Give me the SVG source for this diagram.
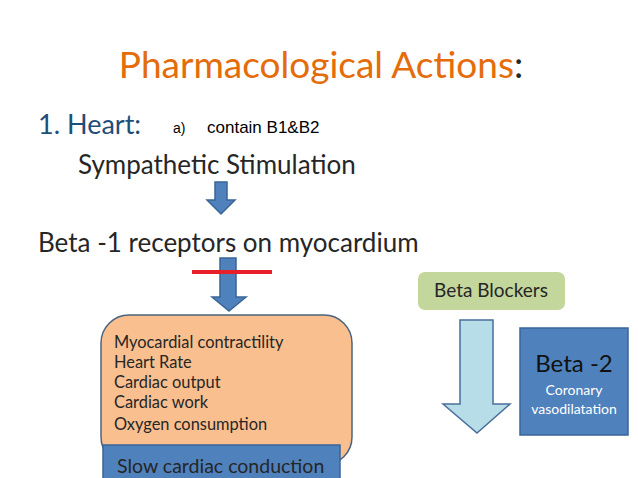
<svg xmlns="http://www.w3.org/2000/svg" width="638" height="478" viewBox="0 0 638 478">
<style>
.c{font-family:Lato,"Open Sans",sans-serif;fill:#262626}
.b{fill:#4f81bd;stroke:#3a6596;stroke-width:1.5}
</style>
<rect width="638" height="478" fill="#fff"/>
<text x="321" y="78" text-anchor="middle" font-family="Lato,'Open Sans',sans-serif" font-size="37" fill="#e46c0a">Pharmacological  Actions<tspan fill="#262626">:</tspan></text>
<text x="38" y="134" font-family="Lato,sans-serif" font-size="27" fill="#1f4e79">1. Heart:</text>
<text x="173" y="133" font-family="'Liberation Sans',Arial,sans-serif" font-size="14" fill="#000">a)</text>
<text x="207" y="133" font-family="'Liberation Sans',Arial,sans-serif" font-size="17" fill="#000">contain B1&amp;B2</text>
<text id="symp" class="c" x="78" y="174" font-size="26">Sympathetic Stimulation</text>
<text id="beta1" class="c" x="38" y="252" font-size="26">Beta -1 receptors on myocardium</text>
<g id="connectors">
<path class="b" d="M215,182 H227 V200 H235 L221,214 L207,200 H215 Z"/>
<path class="b" d="M220,258 H236 V297 H246 L229,311 L212,297 H220 Z"/>
<line x1="192" y1="272" x2="272" y2="272" stroke="#e8202a" stroke-width="4"/>
<path d="M460,320 H493 V404 H510 L477,433 L443,404 H460 Z" fill="#b7dde8" stroke="#4a6f9a" stroke-width="1.5"/>
</g>
<g id="effects">
<rect x="101" y="315" width="251" height="150" rx="28" fill="#f9bf8f" stroke="#4a6480" stroke-width="1.5"/>
<g class="c" font-size="16.4">
<text x="114" y="348">Myocardial contractility</text>
<text x="114" y="368">Heart Rate</text>
<text x="114" y="388">Cardiac output</text>
<text x="114" y="408">Cardiac work</text>
<text x="114" y="430">Oxygen consumption</text>
</g>
</g>
<g id="slow">
<rect class="b" x="103" y="445" width="237" height="40"/>
<text class="c" x="117" y="473" font-size="19.5">Slow cardiac conduction</text>
</g>
<g id="blockers">
<rect x="418" y="272" width="147" height="38" rx="7" fill="#c3d69b"/>
<text class="c" x="491" y="297" font-size="19" text-anchor="middle">Beta Blockers</text>
</g>
<g id="beta2">
<rect class="b" x="520" y="328" width="108" height="107"/>
<text class="c" x="574" y="372" font-size="24" text-anchor="middle" style="fill:#111">Beta -2</text>
<text x="574" y="395" font-size="14" text-anchor="middle" font-family="Lato,sans-serif" fill="#fff">Coronary</text>
<text x="574" y="414" font-size="14" text-anchor="middle" font-family="Lato,sans-serif" fill="#fff">vasodilatation</text>
</g>
</svg>
